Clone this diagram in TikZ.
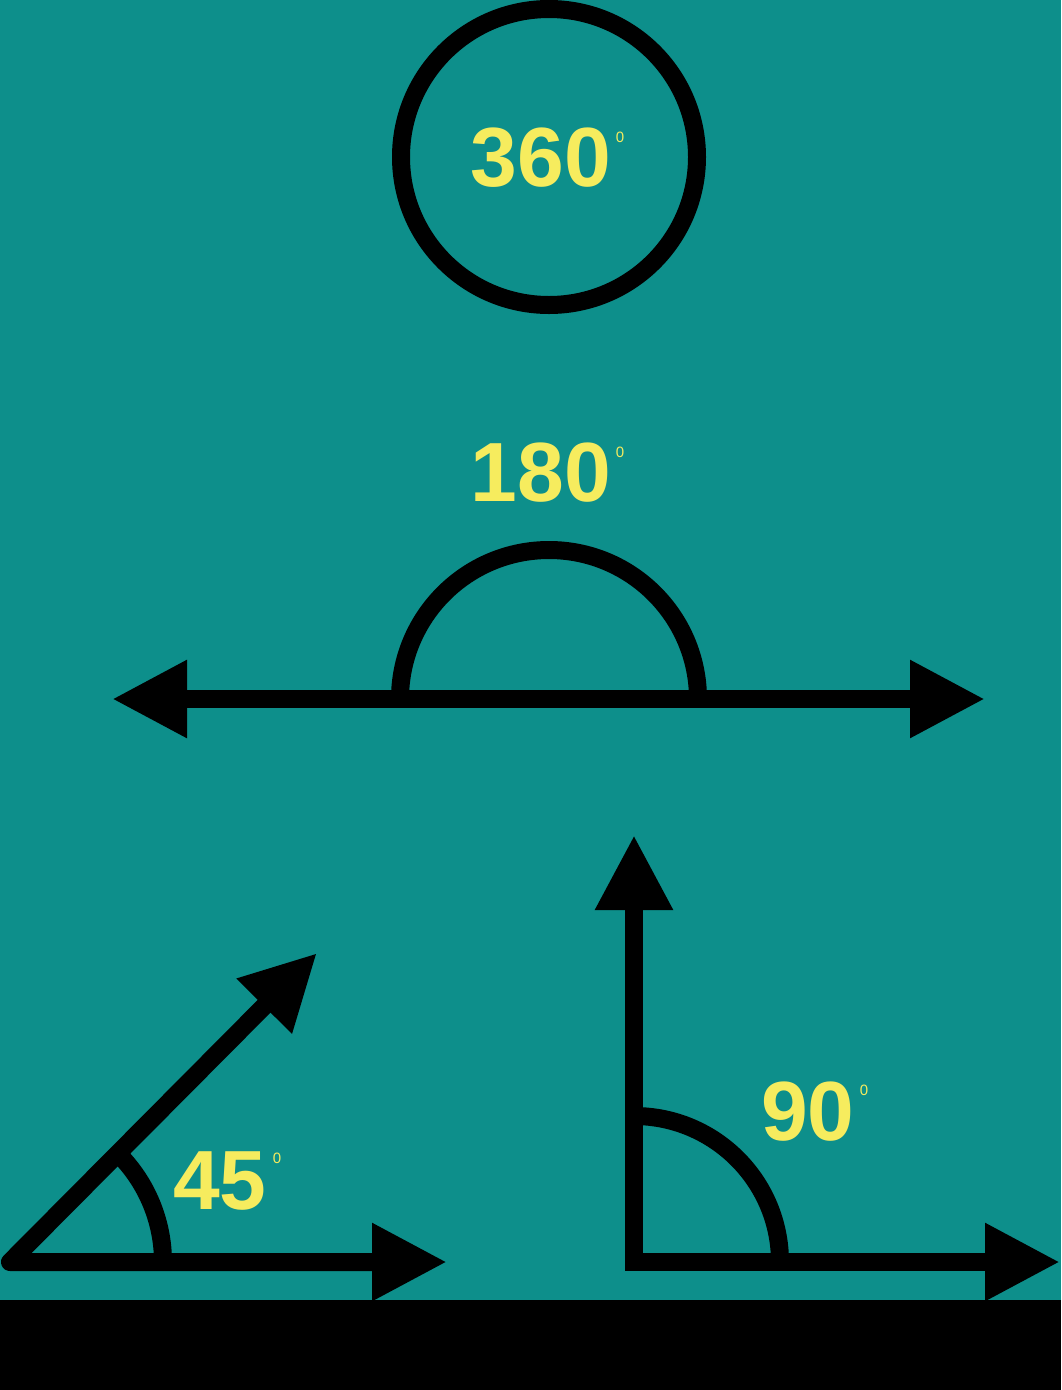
\documentclass[tikz,border=0pt]{standalone}
\usepackage{fontspec}
\setmainfont{Liberation Sans}
\usetikzlibrary{arrows.meta}
\definecolor{tealbg}{HTML}{0D8F8B}
\definecolor{degyellow}{HTML}{F6EC5E}

\begin{document}
\begin{tikzpicture}[x=1pt, y=-1pt,
  >={Triangle[length=75pt, width=73pt]},
  every node/.style = {inner sep=0pt, text=degyellow},
  deglabel/.style = {font=\fontsize{84}{84}\selectfont\bfseries},
  degmark/.style = {font=\fontsize{15}{15}\selectfont},
  ray/.style = {line width=18pt, draw=black}]
  % background and bottom band
  \useasboundingbox (0,0) rectangle (1061,1390);
  \fill[tealbg] (0,0) rectangle (1061,1300);
  \fill[black] (0,1300) rectangle (1061,1390);

  % full turn
  \coordinate (c360) at (549,157);
  \draw[ray] (c360) circle[radius=148];
  \node[deglabel] (n360) at (541,158) {360};
  \node[degmark] (m360) at (620,137) {0};

  % straight angle
  \coordinate (c180) at (549,699);
  \coordinate (l180) at (112,699);
  \coordinate (r180) at (985,699);
  \draw[ray, <->] (l180) -- (r180);
  \draw[ray] (c180) ++(-149,0) arc[start angle=180, end angle=360, radius=149];
  \node[deglabel] (n180) at (541,473) {180};
  \node[degmark] (m180) at (620,452) {0};

  % 45 degrees
  \coordinate (v45) at (10,1262);
  \coordinate (d45) at (317,953);
  \coordinate (h45) at (447,1262);
  \draw[ray, <->, line join=round] (d45) -- (v45) -- (h45);
  \draw[ray] (v45) ++(153,0) arc[start angle=0, end angle=-45, radius=153];
  \node[deglabel] (n45) at (220,1181) {45};
  \node[degmark] (m45) at (277,1158) {0};

  % right angle
  \coordinate (v90) at (634,1262);
  \coordinate (u90) at (634,835);
  \coordinate (h90) at (1060,1262);
  \draw[ray, <->, line join=miter] (u90) -- (v90) -- (h90);
  \draw[ray] (v90) ++(146,0) arc[start angle=0, end angle=-90, radius=146];
  \node[deglabel] (n90) at (808,1112) {90};
  \node[degmark] (m90) at (864,1090) {0};
\end{tikzpicture}
\end{document}
